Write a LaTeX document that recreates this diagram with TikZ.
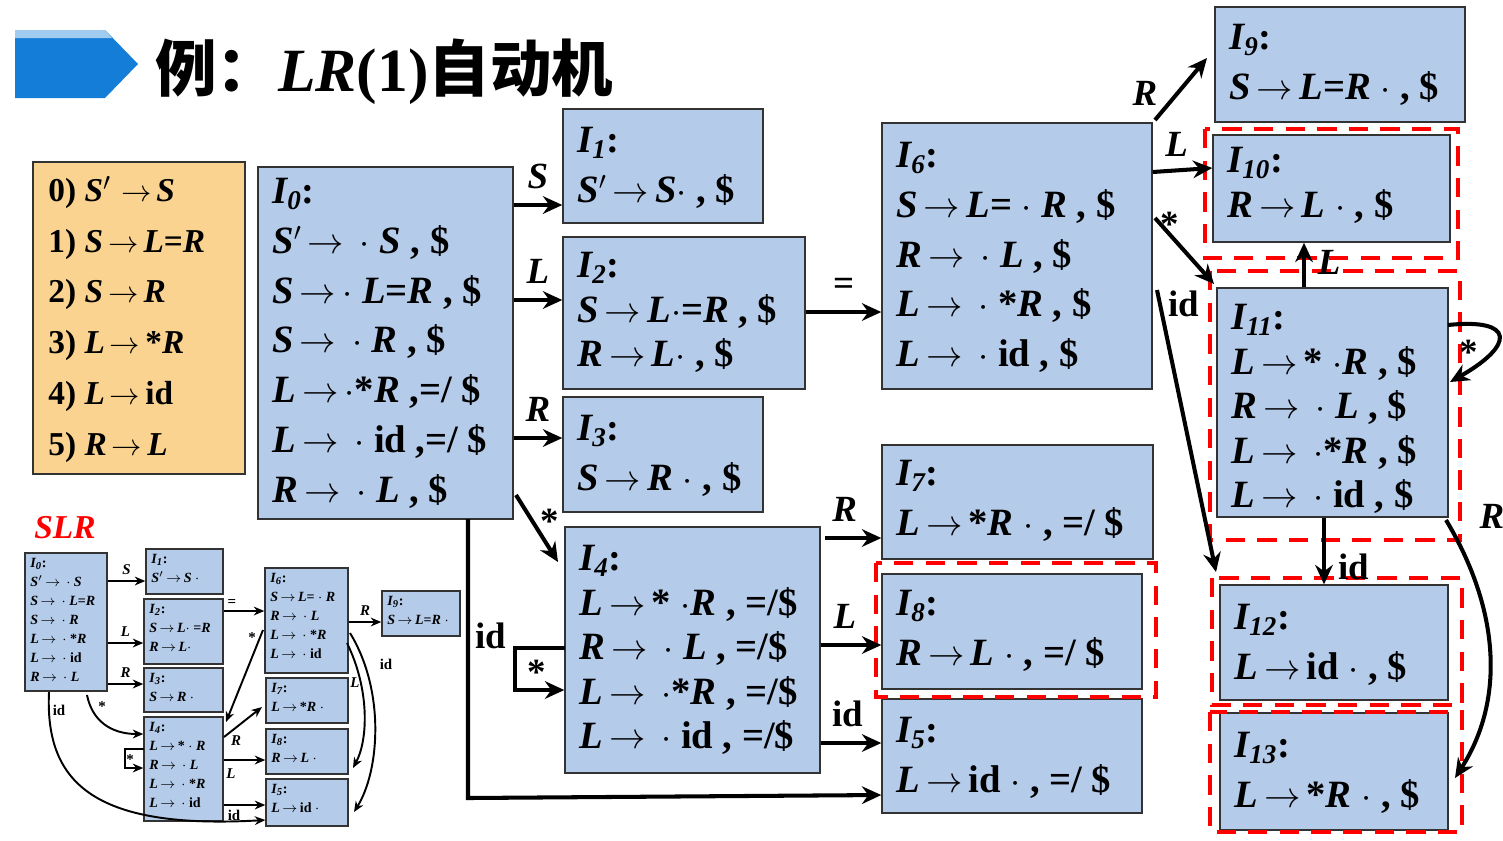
\documentclass[tikz,border=0pt]{standalone}
\usepackage{fontspec}
\setmainfont{Liberation Serif}
\newfontfamily\cjk{Noto Sans CJK SC}
\usetikzlibrary{arrows.meta,fit,calc}
\definecolor{boxblue}{RGB}{180,203,234}
\definecolor{gram}{RGB}{249,211,143}
\definecolor{tblue}{RGB}{20,125,215}
\newcommand\iv[1]{\textit{#1}}
\newcommand\ra{$\,\rightarrow\,$}
\newcommand\cd{$\cdot$}
\newcommand\stbox[5]{\node[box,fit={(#2,#3)(#4,#5)}] (#1) {};}
\begin{document}
\begin{tikzpicture}[x=0.02cm,y=-0.02cm,
  box/.style={draw=black!80,line width=0.8pt,fill=boxblue,inner sep=0pt},
  big/.style={anchor=north west,inner sep=0pt,align=left,font=\bfseries\fontsize{22}{28.3}\selectfont},
  bigc/.style={big,font=\bfseries\fontsize{22}{25.3}\selectfont},
  sm/.style={anchor=north west,inner sep=0pt,align=left,font=\bfseries\fontsize{8}{10.8}\selectfont},
  arr/.style={line width=2.3pt,-{Stealth[length=11pt,width=10pt]}},
  sarr/.style={line width=1.1pt,-{Stealth[length=6pt,width=5pt]}},
  lab/.style={font=\bfseries\fontsize{21}{21}\selectfont,inner sep=0pt},
  slab/.style={font=\bfseries\fontsize{8.5}{8.5}\selectfont,inner sep=0pt},
  red/.style={draw=red,line width=2.3pt,dash pattern=on 11pt off 7pt}]
\useasboundingbox (0,0) rectangle (1503,840);
% title
\fill[tblue] (15,30) -- (105,30) -- (138,64) -- (105,98) -- (15,98) -- cycle;
\fill[tblue!40!white] (15,30) -- (105,30) -- (112,38) -- (15,38) -- cycle;
\node[anchor=west,inner sep=0pt,font=\bfseries\fontsize{35}{35}\selectfont] (title) at (155,72)
  {{\cjk 例：}\iv{LR}(1){\cjk 自动机}};
% grammar
\node[fill=gram,draw=black!80,line width=0.8pt,inner sep=0pt,fit={(33,162)(245,474)}] (G) {};
\node[anchor=north west,inner sep=0pt,align=left,font=\bfseries\fontsize{19}{28.9}\selectfont] (gt) at (48,176)
 {0) \iv{S}$'\,$\ra\iv{S}\\1) \iv{S}\ra\iv{L}=\iv{R}\\2) \iv{S}\ra\iv{R}\\3) \iv{L}\ra*\iv{R}\\4) \iv{L}\ra id\\5) \iv{R}\ra\iv{L}};
% main boxes
\stbox{I0}{258}{167}{513}{519}
\node[big] (t0) at (272,178) {\iv{I\textsubscript{0}}:\\\iv{S}$'$\ra\ \cd\ \iv{S} , \$\\\iv{S}\ra\cd\ \iv{L}=\iv{R} , \$\\\iv{S}\ra\ \cd\ \iv{R} , \$\\\iv{L}\ra\cd*\iv{R} ,=/ \$\\\iv{L}\ra\ \cd\ id ,=/ \$\\\iv{R}\ra\ \cd\ \iv{L} , \$};
\stbox{I1}{563}{109}{763}{223}
\node[big] (t1) at (577,127) {\iv{I\textsubscript{1}}:\\\iv{S}$'$\ra\iv{S}\cd\ , \$};
\stbox{I2}{563}{237}{805}{389}
\node[bigc] (t2) at (577,252) {\iv{I\textsubscript{2}}:\\\iv{S}\ra\iv{L}\cd=\iv{R} , \$\\\iv{R}\ra\iv{L}\cd\ , \$};
\stbox{I3}{563}{397}{763}{512}
\node[big] (t3) at (577,415) {\iv{I\textsubscript{3}}:\\\iv{S}\ra\iv{R} \cd\ , \$};
\stbox{I4}{565}{527}{820}{773}
\node[bigc] (t4) at (579,545) {\iv{I\textsubscript{4}}:\\\iv{L}\ra* \cd\iv{R} , =/\$\\\iv{R}\ra\ \cd\ \iv{L} , =/\$\\\iv{L}\ra\ \cd*\iv{R} , =/\$\\\iv{L}\ra\ \cd\ id , =/\$};
\stbox{I6}{882}{123}{1152}{389}
\node[big] (t6) at (896,142) {\iv{I\textsubscript{6}}:\\\iv{S}\ra\iv{L}= \cd\ \iv{R} , \$\\\iv{R}\ra\ \cd\ \iv{L} , \$\\\iv{L}\ra\ \cd\ *\iv{R} , \$\\\iv{L}\ra\ \cd\ id , \$};
\stbox{I7}{882}{445}{1153}{559}
\node[big] (t7) at (896,460) {\iv{I\textsubscript{7}}:\\\iv{L}\ra*\iv{R} \cd\ , =/ \$};
\stbox{I8}{882}{574}{1142}{689}
\node[big] (t8) at (896,590) {\iv{I\textsubscript{8}}:\\\iv{R}\ra\iv{L} \cd\ , =/ \$};
\stbox{I5}{882}{699}{1142}{813}
\node[big] (t5) at (896,717) {\iv{I\textsubscript{5}}:\\\iv{L}\ra id \cd\ , =/ \$};
\stbox{I9}{1215}{7}{1465}{122}
\node[big] (t9) at (1229,24) {\iv{I\textsubscript{9}}:\\\iv{S}\ra\iv{L}=\iv{R} \cd\ , \$};
\stbox{I10}{1213}{135}{1450}{242}
\node[bigc] (t10) at (1227,147) {\iv{I\textsubscript{10}}:\\\iv{R}\ra\iv{L} \cd\ , \$};
\stbox{I11}{1217}{288}{1448}{517}
\node[bigc] (t11) at (1231,304) {\iv{I\textsubscript{11}}:\\\iv{L}\ra* \cd\iv{R} , \$\\\iv{R}\ra\ \cd\ \iv{L} , \$\\\iv{L}\ra\ \cd*\iv{R} , \$\\\iv{L}\ra\ \cd\ id , \$};
\stbox{I12}{1220}{585}{1448}{700}
\node[big] (t12) at (1234,604) {\iv{I\textsubscript{12}}:\\\iv{L}\ra id \cd\ , \$};
\stbox{I13}{1220}{713}{1448}{830}
\node[big] (t13) at (1234,732) {\iv{I\textsubscript{13}}:\\\iv{L}\ra*\iv{R} \cd\ , \$};
% red dashed
\draw[red] (876,563) rectangle (1156,697);
\draw[red] (1205,129) rectangle (1458,258);
\draw[red] (1210,271) rectangle (1460,540);
\draw[red] (1212,578) rectangle (1462,705);
\draw[red] (1210,712) rectangle (1462,832);
% main arrows
\draw[arr] (I0.east|-0,205) -- (I1.west|-0,205) node[lab,midway,above=8pt] {\iv{S}};
\draw[arr] (I0.east|-0,300) -- (I2.west|-0,300) node[lab,midway,above=8pt] {\iv{L}};
\draw[arr] (I0.east|-0,438) -- (I3.west|-0,438) node[lab,midway,above=8pt] {\iv{R}};
\draw[arr] (516,495) -- (558,562) node[lab,pos=0.4,right=3pt] {*};
\draw[arr] (468,519) -- (468,798) -- (I5.west|-0,795);
\node[lab] (lid0) at (491,636) {id};
\draw[arr] (565,648) -- (515,648) -- (515,690) -- (I4.west|-0,690);
\node[lab] (lst4) at (537,672) {*};
\draw[arr] (I2.east|-0,312) -- (I6.west|-0,312) node[lab,midway,above=8pt] {=};
\draw[arr] (825,538) -- (I7.west|-0,538) node[lab,pos=0.35,above=8pt] {\iv{R}};
\draw[arr] (I4.east|-0,645) -- (I8.west|-0,645) node[lab,pos=0.4,above=8pt] {\iv{L}};
\draw[arr] (I4.east|-0,743) -- (I5.west|-0,743) node[lab,pos=0.45,above=8pt] {id};
\draw[arr] (1155,120) -- (1207,58);
\node[lab] (lR9) at (1145,93) {\iv{R}};
\draw[arr] (I6.east|-0,172) -- (I10.west|-0,168) node[lab,pos=0.4,above=7pt] {\iv{L}};
\draw[arr] (1155,218) -- (1214,284);
\node[lab] (ls11) at (1170,224) {*};
\draw[arr] (1157,290) -- (1216,572);
\node[lab] (lid12) at (1184,304) {id};
\draw[arr] (I11.north-|1304,0) -- (I10.south-|1304,0);
\node[lab] (lL10) at (1329,262) {\iv{L}};
\draw[arr] (1448,325) .. controls (1515,318) and (1515,345) .. (1450,382);
\node[lab] (ls11b) at (1469,352) {*};
\draw[arr] (I11.south-|1324,0) -- (I12.north-|1324,0);
\node[lab] (lid12b) at (1354,567) {id};
\draw[arr] (1446,520) .. controls (1500,610) and (1505,700) .. (1455,778);
\node[lab] (lR13) at (1492,516) {\iv{R}};
% SLR
\node[text=red,anchor=west,inner sep=0pt,font=\bfseries\itshape\fontsize{19}{19}\selectfont] (slr) at (34,528) {SLR};
\stbox{s0}{25}{553}{107}{691}
\node[sm] (u0) at (30,558) {\iv{I\textsubscript{0}}:\\\iv{S}$'$\ra\ \cd\ \iv{S}\\\iv{S}\ra\ \cd\ \iv{L}=\iv{R}\\\iv{S}\ra\ \cd\ \iv{R}\\\iv{L}\ra\ \cd\ *\iv{R}\\\iv{L}\ra\ \cd\ id\\\iv{R}\ra\ \cd\ \iv{L}};
\stbox{s1}{146}{549}{223}{594}
\node[sm] (u1) at (151,554) {\iv{I\textsubscript{1}}:\\\iv{S}$'$\ra\iv{S} \cd};
\stbox{s2}{144}{599}{223}{664}
\node[sm] (u2) at (149,604) {\iv{I\textsubscript{2}}:\\\iv{S}\ra\iv{L}\cd\ =\iv{R}\\\iv{R}\ra\iv{L}\cd};
\stbox{s3}{144}{668}{223}{712}
\node[sm] (u3) at (149,673) {\iv{I\textsubscript{3}}:\\\iv{S}\ra\iv{R} \cd};
\stbox{s4}{144}{717}{223}{821}
\node[sm] (u4) at (149,722) {\iv{I\textsubscript{4}}:\\\iv{L}\ra* \cd\ \iv{R}\\\iv{R}\ra\ \cd\ \iv{L}\\\iv{L}\ra\ \cd\ *\iv{R}\\\iv{L}\ra\ \cd\ id};
\stbox{s6}{265}{568}{348}{673}
\node[sm] (u6) at (270,573) {\iv{I\textsubscript{6}}:\\\iv{S}\ra\iv{L}= \cd\ \iv{R}\\\iv{R}\ra\ \cd\ \iv{L}\\\iv{L}\ra\ \cd\ *\iv{R}\\\iv{L}\ra\ \cd\ id};
\stbox{s9}{382}{591}{460}{636}
\node[sm] (u9) at (387,596) {\iv{I\textsubscript{9}}:\\\iv{S}\ra\iv{L}=\iv{R} \cd};
\stbox{s7}{266}{678}{348}{723}
\node[sm] (u7) at (271,683) {\iv{I\textsubscript{7}}:\\\iv{L}\ra*\iv{R} \cd};
\stbox{s8}{266}{729}{348}{774}
\node[sm] (u8) at (271,734) {\iv{I\textsubscript{8}}:\\\iv{R}\ra\iv{L} \cd};
\stbox{s5}{266}{779}{348}{826}
\node[sm] (u5) at (271,784) {\iv{I\textsubscript{5}}:\\\iv{L}\ra id \cd};
\draw[sarr] (s0.east|-0,581) -- (s1.west|-0,581) node[slab,midway,above=3pt] {\iv{S}};
\draw[sarr] (s0.east|-0,643) -- (s2.west|-0,643) node[slab,midway,above=3pt] {\iv{L}};
\draw[sarr] (s0.east|-0,684) -- (s3.west|-0,684) node[slab,midway,above=3pt] {\iv{R}};
\draw[sarr] (87,695) .. controls (92,720) and (110,734) .. (s4.west|-0,734);
\node[slab] (ss4) at (102,707) {*};
\draw[sarr] (49,692) .. controls (45,780) and (90,830) .. (s5.west|-0,820);
\node[slab] (sid) at (59,710) {id};
\draw[sarr] (144,749) -- (125,749) -- (125,768) -- (s4.west|-0,768);
\node[slab] (ss4b) at (130,760) {*};
\draw[sarr] (s2.east|-0,611) -- (s6.west|-0,611) node[slab,pos=0.2,above=2pt] {=};
\draw[sarr] (263,630) -- (226,722);
\node[slab] (ss6) at (252,638) {*};
\draw[sarr] (224,737) -- (262,707);
\node[slab] (sR7) at (236,741) {\iv{R}};
\draw[sarr] (s4.east|-0,760) -- (s8.west|-0,760);
\node[slab] (sL8) at (231,774) {\iv{L}};
\draw[sarr] (s4.east|-0,805) -- (s5.west|-0,805);
\node[slab] (sid5) at (234,815) {id};
\draw[sarr] (s6.east|-0,622) -- (s9.west|-0,622) node[slab,midway,above=3pt] {\iv{R}};
\draw[sarr] (347,643) .. controls (370,690) and (368,740) .. (353,768);
\node[slab] (sL) at (355,683) {\iv{L}};
\draw[sarr] (350,633) .. controls (385,690) and (380,770) .. (354,812);
\node[slab] (sid6) at (386,664) {id};
\end{tikzpicture}
\end{document}
